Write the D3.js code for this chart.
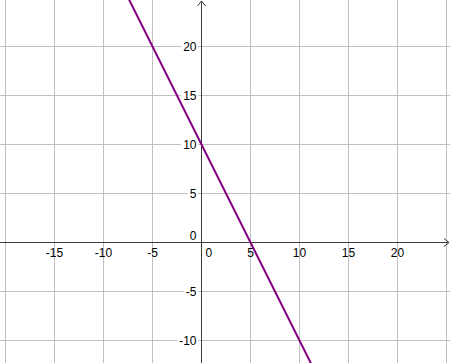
<!DOCTYPE html>
<html>
<head>
<meta charset="utf-8">
<script src="https://cdn.jsdelivr.net/npm/d3@7"></script>
<style>
  body { margin: 0; background: #fff; }
  svg { display: block; font-family: "Liberation Sans", Arial, sans-serif; }
</style>
</head>
<body>
<div id="chart"></div>
<script>
// line y = slope * x + intercept
const slope = -2;
const intercept = 10;
const xTicks = [-15, -10, -5, 5, 10, 15, 20];
const yTicks = [-10, -5, 5, 10, 15, 20];
const xGrid = [-20, -15, -10, -5, 5, 10, 15, 20, 25];
const yGrid = [-10, -5, 5, 10, 15, 20];

const width = 450, height = 363;
const x0 = 201.5, y0 = 242.5, unit = 9.8;

const x = d3.scaleLinear()
  .domain([-x0 / unit, (width - x0) / unit])
  .range([0, width]);
const y = d3.scaleLinear()
  .domain([(y0 - height) / unit, y0 / unit])
  .range([height, 0]);

const crisp = v => Math.round(v - 0.5) + 0.5;

const svg = d3.select('#chart')
  .append('svg')
  .attr('width', width)
  .attr('height', height);

// grid
svg.append('g').selectAll('line')
  .data(xGrid)
  .enter()
  .append('line')
  .attr('x1', d => crisp(x(d))).attr('x2', d => crisp(x(d)))
  .attr('y1', 0).attr('y2', height)
  .attr('stroke', '#c0c0c0').attr('stroke-width', 1);

svg.append('g').selectAll('line')
  .data(yGrid)
  .enter()
  .append('line')
  .attr('y1', d => crisp(y(d))).attr('y2', d => crisp(y(d)))
  .attr('x1', 0).attr('x2', width)
  .attr('stroke', '#c0c0c0').attr('stroke-width', 1);

// axes
const ax = crisp(x(0)), ay = crisp(y(0));
const axisColor = '#3c3c3c';
svg.append('line')
  .attr('x1', 0).attr('x2', width - 1)
  .attr('y1', ay).attr('y2', ay)
  .attr('stroke', axisColor);
svg.append('line')
  .attr('x1', ax).attr('x2', ax)
  .attr('y1', 1).attr('y2', height)
  .attr('stroke', axisColor);

// arrow heads
svg.append('path')
  .attr('d', `M${width - 6},${ay - 4}L${width - 1},${ay}L${width - 6},${ay + 4}`)
  .attr('fill', 'none').attr('stroke', axisColor);
svg.append('path')
  .attr('d', `M${ax - 4},6L${ax},1L${ax + 4},6`)
  .attr('fill', 'none').attr('stroke', axisColor);

// tick labels
const fontSize = 12;
const xLab = svg.append('g').selectAll('g')
  .data(xTicks)
  .enter()
  .append('g');
xLab.append('text')
  .attr('x', d => x(d))
  .attr('y', ay + 14)
  .attr('text-anchor', 'middle')
  .attr('font-size', fontSize)
  .attr('fill', '#000')
  .text(d => d);

const yLab = svg.append('g').selectAll('g')
  .data(yTicks)
  .enter()
  .append('g');
yLab.each(function(d) {
  const g = d3.select(this);
  const t = g.append('text')
    .attr('x', ax - 5)
    .attr('y', y(d) + 4)
    .attr('text-anchor', 'end')
    .attr('font-size', fontSize)
    .attr('fill', '#000')
    .text(d);
  const b = t.node().getBBox();
  g.insert('rect', 'text')
    .attr('x', b.x - 2).attr('y', y(d) - 6)
    .attr('width', b.width + 3).attr('height', 12)
    .attr('fill', '#fff');
});

// origin labels
svg.append('text')
  .attr('x', ax - 5).attr('y', ay - 3)
  .attr('text-anchor', 'end')
  .attr('font-size', fontSize)
  .text(0);
svg.append('text')
  .attr('x', ax + 4).attr('y', ay + 14)
  .attr('font-size', fontSize)
  .text(0);

// the function line
const xs = [x.domain()[0], x.domain()[1]];
svg.append('path')
  .datum(xs.map(v => [v, slope * v + intercept]))
  .attr('d', d3.line().x(d => x(d[0])).y(d => y(d[1])))
  .attr('fill', 'none')
  .attr('stroke', '#800080')
  .attr('stroke-width', 2);
</script>
</body>
</html>
